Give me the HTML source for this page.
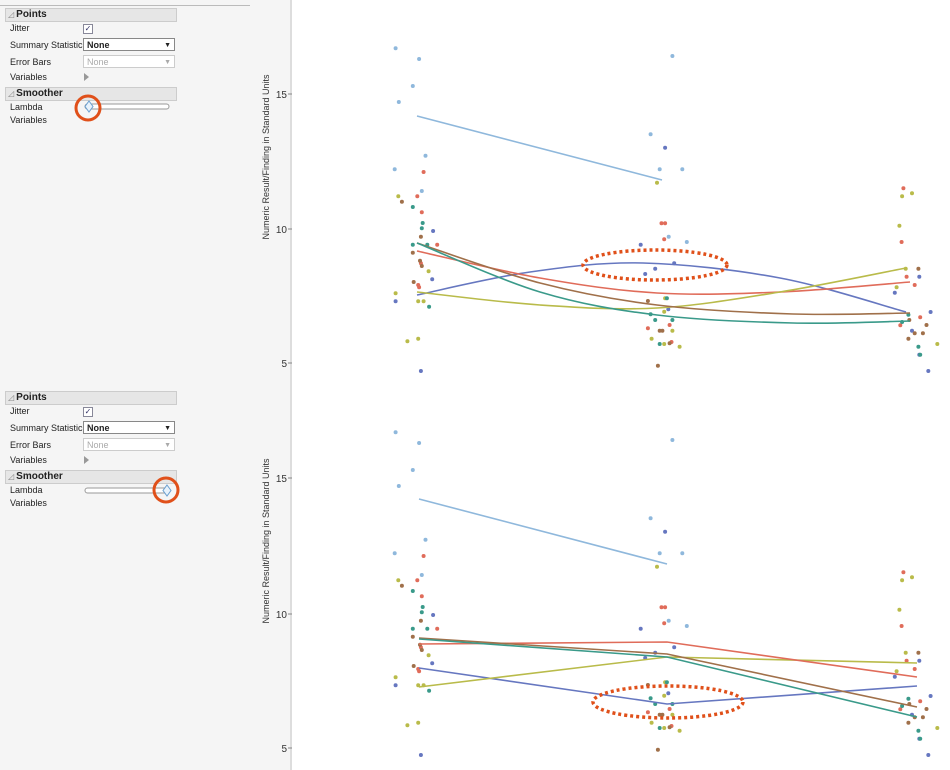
<!DOCTYPE html>
<html><head><meta charset="utf-8"><style>
body{margin:0;width:950px;height:770px;overflow:hidden;background:#fff;font-family:"Liberation Sans",sans-serif;}
#left{position:absolute;left:0;top:0;width:292px;height:770px;background:#f5f5f5;border-right:2px solid #ddd;box-sizing:border-box}
.blk{position:absolute;left:0;width:292px;height:130px;font-size:9px;color:#222}
.bar{position:absolute;left:5px;width:170px;height:12px;background:#e6e6e6;border:1px solid #ccc;font-weight:bold;font-size:10px;line-height:12px;}
.bar span{color:#888;font-weight:normal;font-size:8px;margin:0 2px 0 2px}
.lab{position:absolute;left:10px}
.cb{position:absolute;left:83px;width:8px;height:8px;border:1px solid #889;background:#fff;font-size:8px;line-height:8px;text-align:center;color:#336}
.dd{position:absolute;left:83px;width:92px;height:13px;border:1px solid #888;background:#fff;font-weight:bold;font-size:9px;line-height:13px;box-sizing:border-box;padding-left:3px}
.dd.dis{border-color:#ccc;color:#aaa;font-weight:normal}
.dd b{position:absolute;right:3px;top:0;font-size:7px}
.tri{position:absolute;left:84px;width:0;height:0;border-top:4px solid transparent;border-bottom:4px solid transparent;border-left:5px solid #999}
svg{position:absolute;left:0;top:0}
</style></head><body>
<div id="left"></div>
<div style="position:absolute;left:0;top:5px;width:250px;height:1px;background:#bbb"></div>
<div class="blk" style="top:0">
<div class="bar" style="top:8px"><span>◿</span>Points</div>
<div class="lab" style="top:23px">Jitter</div><div class="cb" style="top:24px">✓</div>
<div class="lab" style="top:40px">Summary Statistic</div><div class="dd" style="top:38px">None<b>▼</b></div>
<div class="lab" style="top:57px">Error Bars</div><div class="dd dis" style="top:55px">None<b>▼</b></div>
<div class="lab" style="top:72px">Variables</div><div class="tri" style="top:73px"></div>
<div class="bar" style="top:87px"><span>◿</span>Smoother</div>
<div class="lab" style="top:102px">Lambda</div>
<div class="lab" style="top:115px">Variables</div>
</div>
<div class="blk" style="top:383px">
<div class="bar" style="top:8px"><span>◿</span>Points</div>
<div class="lab" style="top:23px">Jitter</div><div class="cb" style="top:24px">✓</div>
<div class="lab" style="top:40px">Summary Statistic</div><div class="dd" style="top:38px">None<b>▼</b></div>
<div class="lab" style="top:57px">Error Bars</div><div class="dd dis" style="top:55px">None<b>▼</b></div>
<div class="lab" style="top:72px">Variables</div><div class="tri" style="top:73px"></div>
<div class="bar" style="top:87px"><span>◿</span>Smoother</div>
<div class="lab" style="top:102px">Lambda</div>
<div class="lab" style="top:115px">Variables</div>
</div>
<svg id="s" width="950" height="770" xmlns="http://www.w3.org/2000/svg">
<g font-family="Liberation Sans, sans-serif" font-size="10" fill="#333">
<rect x="85" y="104" width="84" height="5" rx="2.5" fill="#fff" stroke="#999"/>
<path d="M89 101 L93 106.5 L89 112 L85 106.5Z" fill="#e8f2fb" stroke="#6a9fd0"/>
<circle cx="88" cy="108" r="12" fill="none" stroke="#e0501a" stroke-width="3"/>
<rect x="85" y="488" width="84" height="5" rx="2.5" fill="#fff" stroke="#999"/>
<path d="M167 485 L171 490.5 L167 496 L163 490.5Z" fill="#e8f2fb" stroke="#6a9fd0"/>
<circle cx="166" cy="490" r="12" fill="none" stroke="#e0501a" stroke-width="3"/>
<text x="269" y="157" font-size="9" text-anchor="middle" transform="rotate(-90 269 157)">Numeric Result/Finding in Standard Units</text>
<text x="269" y="541" font-size="9" text-anchor="middle" transform="rotate(-90 269 541)">Numeric Result/Finding in Standard Units</text>
<g text-anchor="end" font-size="10">
<text x="287" y="98">15</text><text x="287" y="233">10</text><text x="287" y="367">5</text>
<text x="287" y="482">15</text><text x="287" y="618">10</text><text x="287" y="752">5</text>
</g>
<g stroke="#888"><line x1="288" y1="94" x2="292" y2="94"/><line x1="288" y1="229" x2="292" y2="229"/><line x1="288" y1="363" x2="292" y2="363"/>
<line x1="288" y1="478" x2="292" y2="478"/><line x1="288" y1="614" x2="292" y2="614"/><line x1="288" y1="748" x2="292" y2="748"/></g>
</g>
<g id="dots"></g><g id="lines" fill="none" stroke-width="1.6"></g>
<ellipse cx="655" cy="265" rx="72" ry="15" fill="none" stroke="#e0501a" stroke-width="3.5" stroke-dasharray="3,3"/>
<ellipse cx="668" cy="702" rx="75" ry="16" fill="none" stroke="#e0501a" stroke-width="3.5" stroke-dasharray="3,3"/>
</svg>
<script>
var C={lb:"#8fb8dc",b:"#6677c0",r:"#e06c5a",y:"#b9bb4a",br:"#a0704a",t:"#3a9a8a"};
var D={lb:[[322,145],[374,177],[360,258],[329,306],[320,508],[388,467],[380,573],[886,403],[906,508],[934,168],[956,508],[926,710],[966,726]],
b:[[322,904],[378,1113],[405,693],[403,838],[918,443],[864,734],[896,806],[874,822],[938,790],[925,928],[1480,830],[1426,878],[1500,1113],[1480,1064],[1464,992],[1505,936]],
r:[[370,589],[384,516],[380,637],[414,734],[378,790],[372,855],[374,862],[910,670],[918,670],[916,718],[880,985],[928,975],[932,1026],[1445,565],[1441,726],[1452,830],[1470,855],[1482,952],[1438,976]],
y:[[328,589],[322,880],[372,904],[384,904],[372,1016],[348,1024],[395,814],[900,548],[918,895],[916,935],[888,1016],[934,992],[950,1040],[916,1032],[1436,677],[1442,589],[1464,580],[1450,806],[1430,862],[1520,1032]],
br:[[336,605],[378,710],[360,758],[362,846],[376,782],[380,798],[880,903],[906,992],[912,992],[902,1097],[928,1030],[1478,806],[1458,960],[1470,1000],[1488,1000],[1496,975],[1456,1016]],
t:[[360,621],[382,669],[380,685],[360,734],[392,734],[396,920],[886,943],[896,960],[922,895],[934,960],[906,1032],[1456,944],[1478,1040],[1482,1064],[1442,966]]};
var h="";
for(var k in D){D[k].forEach(function(p){var x=250+p[0]*0.4522,y=p[1]/3;
h+='<circle cx="'+x.toFixed(1)+'" cy="'+y.toFixed(1)+'" r="2" fill="'+C[k]+'"/>';
h+='<circle cx="'+x.toFixed(1)+'" cy="'+(y+384).toFixed(1)+'" r="2" fill="'+C[k]+'"/>';});}
document.getElementById("dots").innerHTML=h;
function cr(P){var d="M"+P[0][0]+" "+P[0][1];for(var i=0;i<P.length-1;i++){var p0=P[i-1]||P[i],p1=P[i],p2=P[i+1],p3=P[i+2]||p2;
d+=" C"+(p1[0]+(p2[0]-p0[0])/6)+" "+(p1[1]+(p2[1]-p0[1])/6)+" "+(p2[0]-(p3[0]-p1[0])/6)+" "+(p2[1]-(p3[1]-p1[1])/6)+" "+p2[0]+" "+p2[1];}return d;}
function ln(P){return "M"+P.map(function(p){return p.join(" ")}).join(" L");}
var L=[
["lb",ln([[417,116],[662,180]])],
["b",cr([[417,295],[530,272],[643,263],[780,278],[906,312]])],
["r",cr([[417,251],[540,278],[657,293],[780,292],[910,282]])],
["y",cr([[417,292],[540,305],[657,308],[780,292],[906,268]])],
["br",cr([[417,243],[540,283],[657,305],[793,314],[910,313]])],
["t",cr([[417,243],[540,292],[657,315],[793,323],[910,321]])],
["lb",ln([[419,499],[667,564]])],
["b",ln([[419,668],[667,704],[917,686]])],
["y",ln([[419,687],[667,657],[917,663]])],
["r",ln([[419,644],[667,642],[917,677]])],
["br",ln([[419,638],[667,654],[917,707]])],
["t",ln([[419,639],[667,657],[917,717]])]];
var s="";L.forEach(function(l){s+='<path d="'+l[1]+'" stroke="'+C[l[0]]+'"/>';});
document.getElementById("lines").innerHTML=s;
</script>
</body></html>
